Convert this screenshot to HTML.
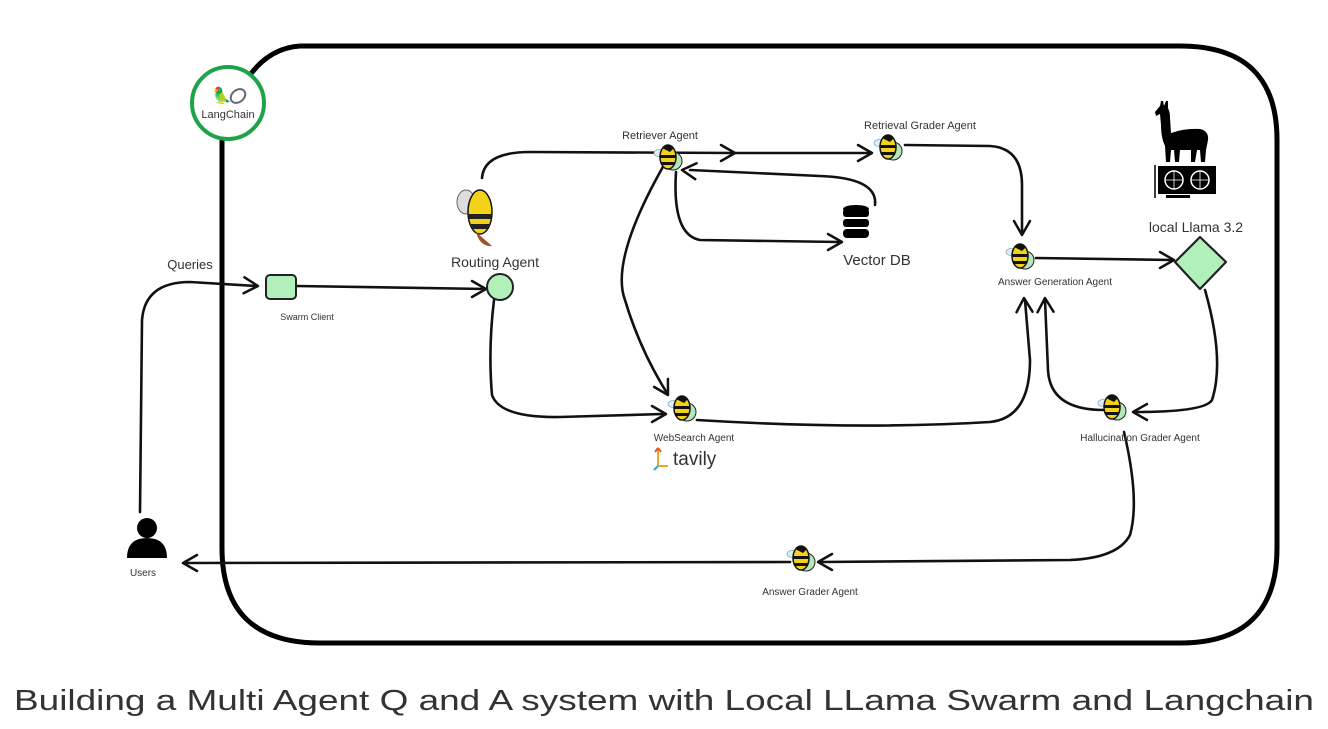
<!DOCTYPE html>
<html><head><meta charset="utf-8"><style>
html,body{margin:0;padding:0;background:#fff;}
svg{display:block;}
text{font-family:"Liberation Sans","DejaVu Sans",sans-serif;fill:#333;}
</style></head><body>
<svg width="1328" height="729" viewBox="0 0 1328 729" xmlns="http://www.w3.org/2000/svg">
<defs>
<g id="bee">
  <circle cx="5" cy="4" r="9" fill="#b5e8b9" stroke="#222" stroke-width="1"/>
  <ellipse cx="-9" cy="-4" rx="5" ry="3.5" fill="#dbeefc" stroke="#8ab" stroke-width="0.8"/>
  <ellipse cx="0" cy="0" rx="8" ry="12" fill="#f5d21a" stroke="#111" stroke-width="1.5"/>
  <rect x="-8" y="-2" width="16" height="3" fill="#111"/>
  <rect x="-7" y="5" width="14" height="3" fill="#111"/>
  <path d="M-6,-9 Q0,-14 6,-9 L2,-5 Z" fill="#111"/>
</g>
<g id="arr"><path d="M-14,-8 L0,0 L-14,8" fill="none" stroke="#111" stroke-width="2.5" stroke-linecap="round" stroke-linejoin="round"/></g>
</defs>

<path d="M300,46 L1180,46 Q1277,46 1277,140 L1277,548 Q1277,643 1180,643 L320,643 Q222,643 222,548 L222,140" fill="none" stroke="#000" stroke-width="5"/>
<path d="M250,75 Q270,48 300,46" fill="none" stroke="#000" stroke-width="5"/>
<circle cx="228" cy="103" r="36" fill="#fff" stroke="#1ea34a" stroke-width="4"/>
<text x="212" y="101" font-size="16">🦜</text>
<ellipse cx="238" cy="96" rx="8" ry="6" fill="none" stroke="#667" stroke-width="2" transform="rotate(-40 238 96)"/>
<text x="228" y="118" font-size="11" text-anchor="middle" fill="#111">LangChain</text>

<g fill="none" stroke="#111" stroke-width="2.6" stroke-linecap="round">
<path d="M140,512 L142,320 Q145,282 190,282 L256,286"/>
<path d="M296,286 L486,289"/>
<path d="M482,178 Q484,152 530,152 L735,153 L870,153"/>
<path d="M875,205 Q878,178 820,176 L690,170"/>
<path d="M676,172 Q672,235 700,240 L840,242"/>
<path d="M664,165 Q610,260 625,300 Q640,350 667,393"/>
<path d="M494,300 Q488,350 492,395 Q500,418 560,417 L663,414"/>
<path d="M905,145 L990,146 Q1022,148 1022,185 L1022,232"/>
<path d="M1036,258 L1172,260"/>
<path d="M1205,290 Q1225,360 1212,400 Q1205,412 1135,412"/>
<path d="M697,420 Q860,430 990,422 Q1030,418 1030,360 L1025,300"/>
<path d="M1104,410 Q1050,410 1048,370 L1045,300"/>
<path d="M1124,432 Q1140,500 1130,535 Q1118,558 1070,560 L820,562"/>
<path d="M790,562 L185,563"/>
</g>
<use href="#arr" transform="translate(258,286) rotate(3)"/>
<use href="#arr" transform="translate(486,289)"/>
<use href="#arr" transform="translate(735,153)"/>
<use href="#arr" transform="translate(872,153)"/>
<use href="#arr" transform="translate(682,170) rotate(185)"/>
<use href="#arr" transform="translate(842,242)"/>
<use href="#arr" transform="translate(668,395) rotate(60)"/>
<use href="#arr" transform="translate(666,414)"/>
<use href="#arr" transform="translate(1022,235) rotate(90)"/>
<use href="#arr" transform="translate(1174,260)"/>
<use href="#arr" transform="translate(1133,412) rotate(180)"/>
<use href="#arr" transform="translate(1024,298) rotate(-92)"/>
<use href="#arr" transform="translate(1045,298) rotate(-92)"/>
<use href="#arr" transform="translate(818,562) rotate(180)"/>
<use href="#arr" transform="translate(183,563) rotate(180)"/>

<rect x="266" y="275" width="30" height="24" rx="4" fill="#b2f0bb" stroke="#222" stroke-width="2"/>
<circle cx="500" cy="287" r="13" fill="#b2f0bb" stroke="#222" stroke-width="2"/>
<path d="M1200,237 L1226,262 L1200,289 L1175,262 Z" fill="#b2f0bb" stroke="#222" stroke-width="2.2" stroke-linejoin="round"/>

<g transform="translate(480,212)">
  <ellipse cx="-14" cy="-10" rx="9" ry="12" fill="#ddd" stroke="#666"/>
  <ellipse cx="0" cy="0" rx="12" ry="22" fill="#f5d21a" stroke="#111" stroke-width="1.5"/>
  <rect x="-11" y="2" width="22" height="5" fill="#222"/>
  <rect x="-9" y="12" width="18" height="5" fill="#222"/>
  <path d="M-4,20 Q0,35 12,34" fill="#a0522d"/>
</g>
<use href="#bee" transform="translate(668,157)"/>
<use href="#bee" transform="translate(888,147)"/>
<use href="#bee" transform="translate(1020,256)"/>
<use href="#bee" transform="translate(682,408)"/>
<use href="#bee" transform="translate(1112,407)"/>
<use href="#bee" transform="translate(801,558)"/>

<g fill="#000">
  <ellipse cx="856" cy="209" rx="13" ry="4"/>
  <rect x="843" y="209" width="26" height="8" rx="3"/>
  <rect x="843" y="219" width="26" height="8" rx="3"/>
  <rect x="843" y="229" width="26" height="9" rx="4"/>
</g>
<!-- llama -->
<path d="M1161,101 L1163,101 L1164,106 L1166,101 L1168,101 L1168,108 Q1170,112 1170,118 L1171,133 Q1185,128 1200,129 Q1209,131 1208,140 L1206,150 L1205,162 L1201,162 L1200,150 L1197,150 L1195,162 L1191,162 L1191,150 L1180,150 L1179,162 L1175,162 L1174,150 L1171,150 L1170,162 L1166,162 L1165,146 Q1161,138 1161,125 L1160,114 L1156,116 L1155,112 L1160,106 Z" fill="#000"/>
<rect x="1158" y="166" width="58" height="28" fill="#000"/>
<circle cx="1174" cy="180" r="9" fill="none" stroke="#fff" stroke-width="1.5"/>
<circle cx="1200" cy="180" r="9" fill="none" stroke="#fff" stroke-width="1.5"/>
<path d="M1174,171 L1174,189 M1165,180 L1183,180 M1200,171 L1200,189 M1191,180 L1209,180" stroke="#fff" stroke-width="0.8"/>
<rect x="1166" y="195" width="24" height="3" fill="#000"/>
<path d="M1155,165 L1155,198" stroke="#000" stroke-width="1.5"/>
<circle cx="147" cy="528" r="10" fill="#000"/>
<path d="M127,558 Q127,538 147,538 Q167,538 167,558 Z" fill="#000"/>
<path d="M658,448 L658,466 L668,466" fill="none" stroke="#f2a81b" stroke-width="2"/>
<path d="M658,448 L655,452 M658,448 L661,452" stroke="#e6572b" stroke-width="2"/>
<path d="M658,466 L654,470" stroke="#2aa6e0" stroke-width="2"/>

<text x="190" y="269" font-size="13" text-anchor="middle">Queries</text>
<text x="307" y="320" font-size="9" text-anchor="middle">Swarm Client</text>
<text x="495" y="267" font-size="14" text-anchor="middle">Routing Agent</text>
<text x="660" y="139" font-size="11" text-anchor="middle">Retriever Agent</text>
<text x="920" y="129" font-size="11" text-anchor="middle">Retrieval  Grader Agent</text>
<text x="877" y="265" font-size="15" text-anchor="middle">Vector DB</text>
<text x="1055" y="285" font-size="10" text-anchor="middle">Answer Generation Agent</text>
<text x="1196" y="232" font-size="14" text-anchor="middle">local Llama 3.2</text>
<text x="694" y="441" font-size="10" text-anchor="middle">WebSearch Agent</text>
<text x="673" y="465" font-size="19" fill="#111">tavily</text>
<text x="1140" y="441" font-size="10" text-anchor="middle">Hallucination Grader Agent</text>
<text x="810" y="595" font-size="10" text-anchor="middle">Answer Grader Agent</text>
<text x="143" y="576" font-size="10" text-anchor="middle">Users</text>
<text x="664" y="710" font-size="29" text-anchor="middle" fill="#222" font-weight="300" textLength="1300" lengthAdjust="spacingAndGlyphs">Building a Multi Agent Q and A system with Local LLama Swarm and Langchain</text>
</svg>
</body></html>
